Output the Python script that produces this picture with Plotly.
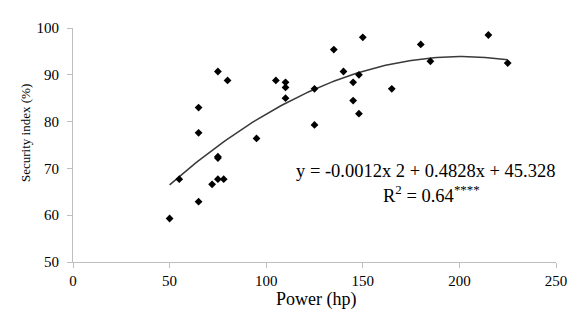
import numpy as np
import plotly.graph_objects as go

# Data
power_hp = [50, 55, 65, 65, 65, 72, 75, 75, 75, 75, 78, 80, 95, 105, 110, 110, 110,
            125, 125, 135, 140, 145, 145, 148, 148, 150, 165, 180, 185, 215, 225]
security_index = [59.3, 67.7, 62.9, 83.0, 77.6, 66.6, 72.2, 72.5, 67.7, 90.7, 67.7, 88.8,
                  76.4, 88.8, 88.4, 87.3, 85.0, 87.0, 79.3, 95.4, 90.7, 88.4, 84.5, 90.0,
                  81.7, 98.0, 87.0, 96.5, 92.9, 98.5, 92.5]
# Polynomial trendline coefficients as printed on the chart (a, b, c)
trend_coefs = [-0.0012, 0.4828, 45.328]
x_ticks = [0, 50, 100, 150, 200, 250]
y_ticks = [50, 60, 70, 80, 90, 100]

FONT = "Liberation Serif, Times New Roman, serif"

tx = np.linspace(min(power_hp), max(power_hp), 120)
ty = np.polyval(trend_coefs, tx)

fig = go.Figure()
fig.add_trace(go.Scatter(x=tx, y=ty, mode="lines",
                         line=dict(color="#3a3a3a", width=1.5),
                         hoverinfo="skip", showlegend=False))
fig.add_trace(go.Scatter(x=power_hp, y=security_index, mode="markers",
                         marker=dict(symbol="diamond", size=6, color="black"),
                         showlegend=False))

axis_common = dict(showgrid=False, zeroline=False, showline=True,
                   linecolor="#bfbfbf", linewidth=1, ticks="outside",
                   ticklen=5, tickcolor="#bfbfbf",
                   tickfont=dict(family=FONT, size=15, color="black"))

fig.update_layout(
    width=572, height=308,
    margin=dict(l=65, r=24, t=13, b=54),
    paper_bgcolor="white", plot_bgcolor="white",
    xaxis=dict(range=[0, 250], tickvals=x_ticks, **axis_common),
    yaxis=dict(range=[50, 100], tickvals=y_ticks, ticklabelstandoff=5, **axis_common),
    annotations=[
        dict(text="Power (hp)", xref="paper", yref="paper", x=0.503, y=-0.162,
             showarrow=False, font=dict(family=FONT, size=18, color="black"),
             xanchor="center", yanchor="middle"),
        dict(text="Security index (%)", xref="paper", yref="paper", x=-0.097, y=0.552,
             textangle=-90, showarrow=False,
             font=dict(family=FONT, size=13, color="black"),
             xanchor="center", yanchor="middle"),
        dict(text="y = -0.0012x 2 + 0.4828x + 45.328", xref="paper", yref="y",
             x=1.003, y=69.4, showarrow=False, xanchor="right", yanchor="middle",
             font=dict(family=FONT, size=18.5, color="black")),
        dict(text="R<sup>2</sup> = 0.64<sup>****</sup>", xref="x", yref="y",
             x=185.5, y=64.6, showarrow=False, xanchor="center", yanchor="middle",
             font=dict(family=FONT, size=18.5, color="black")),
    ],
)

fig.write_html("out.html")
